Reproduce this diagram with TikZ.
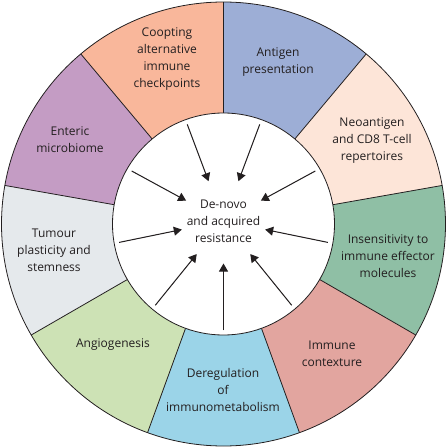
\documentclass[tikz,border=0pt]{standalone}
\usepackage{fontspec}
\setmainfont{Open Sans}
\usetikzlibrary{arrows.meta}

\definecolor{cooptC}{HTML}{F9B79B}
\definecolor{antigenC}{HTML}{9DAED6}
\definecolor{neoC}{HTML}{FDE5D8}
\definecolor{insensC}{HTML}{8FBFA5}
\definecolor{contextC}{HTML}{E2A59F}
\definecolor{deregC}{HTML}{9BD4E8}
\definecolor{angioC}{HTML}{CDE2B5}
\definecolor{tumourC}{HTML}{E5E9EC}
\definecolor{entericC}{HTML}{C49CC4}
\definecolor{inkC}{HTML}{231F20}

\begin{document}
\begin{tikzpicture}[x=1pt, y=1pt, >={Triangle[length=8pt,width=9pt]},
  font=\fontsize{12}{17}\selectfont,
  sector/.style={align=center, text=inkC, inner sep=0pt},
  rim/.style={draw=inkC, line width=0.8pt},
  inarrow/.style={->, draw=inkC, fill=inkC, line width=1pt}]

  \useasboundingbox (-223.5,-223) rectangle (223.5,224);

  % ring of coloured sectors, 40 degrees each
  \foreach \a/\col in {90/cooptC, 50/antigenC, 10/neoC, -30/insensC,
                       -70/contextC, -110/deregC, -150/angioC,
                       170/tumourC, 130/entericC} {
    \fill[\col] (0,0) -- (\a:222) arc[start angle=\a, delta angle=40, radius=222] -- cycle;
  }
  % sector borders
  \foreach \a in {90, 50, 10, -30, -70, -110, -150, 170, 130} {
    \draw[rim] (\a:111) -- (\a:222);
  }
  \draw[rim] (0,0) circle (222);
  \draw[rim, fill=white] (0,0) circle (111);

  % labels in the ring
  \node[sector] (coopt)   at (-56.5,165)  {Coopting\\alternative\\immune\\checkpoints};
  \node[sector] (antigen) at (54.5,162)   {Antigen\\presentation};
  \node[sector] (neo)     at (148.5,83)   {Neoantigen\\and CD8 T-cell\\repertoires};
  \node[sector] (insens)  at (164.5,-32)  {Insensitivity to\\immune effector\\molecules};
  \node[sector] (context) at (108.5,-130) {Immune\\contexture};
  \node[sector] (dereg)   at (-0.5,-166)  {Deregulation\\of\\immunometabolism};
  \node[sector] (angio)   at (-110.5,-121){Angiogenesis};
  \node[sector] (tumour)  at (-169.5,-26) {Tumour\\plasticity and\\stemness};
  \node[sector] (enteric) at (-153.5,84)  {Enteric\\microbiome};

  % centre
  \node[sector, circle, minimum size=80pt] (hub) at (0,3) {De-novo\\and acquired\\resistance};

  % arrows into the centre
  \foreach \a [count=\i] in {110, 70, 30, -10, -50, -90, -130, -170, 150} {
    \coordinate (s\i) at (\a:106);
    \draw[inarrow] (s\i) -- (hub);
  }
\end{tikzpicture}
\end{document}
